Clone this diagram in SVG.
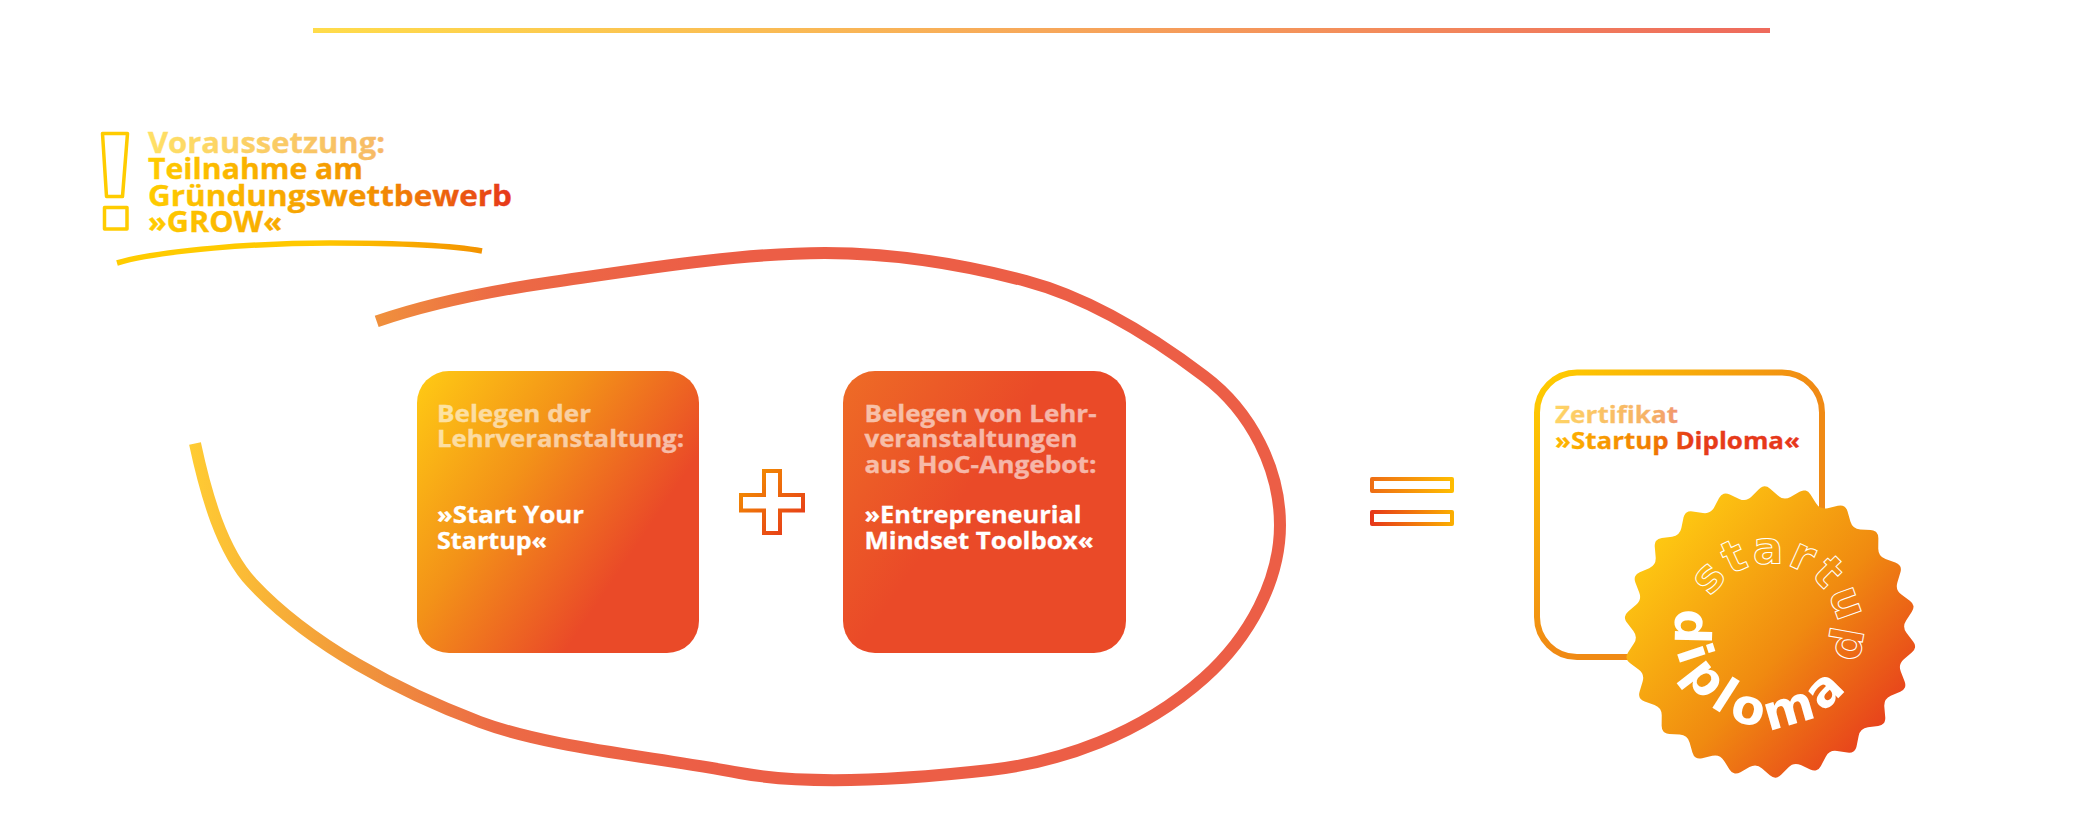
<svg xmlns="http://www.w3.org/2000/svg" xmlns:xlink="http://www.w3.org/1999/xlink" width="2083" height="833" viewBox="0 0 2083 833">
<style>
text{font-family:"Open Sans","Noto Sans","Liberation Sans",sans-serif;font-weight:700}
.h{font-size:29px;stroke:url(#gHead);stroke-width:.35px}
.b{font-size:23.5px;fill:#fff;stroke:#fff;stroke-width:.3px}
.c{font-size:23.5px;fill:url(#gCertT);stroke:url(#gCertT);stroke-width:.3px}
.dim{opacity:.6}
.badgeText{font-family:"DejaVu Sans","Open Sans",sans-serif;font-weight:700}
</style>
<defs>
<linearGradient id="gTop" gradientUnits="userSpaceOnUse" x1="313" y1="0" x2="1770" y2="0"><stop offset="0" stop-color="#FFDC4A"/><stop offset=".5" stop-color="#F7A85A"/><stop offset="1" stop-color="#EE6A5C"/></linearGradient>
<linearGradient id="gHead" gradientUnits="userSpaceOnUse" x1="148" y1="0" x2="515" y2="0"><stop offset="0" stop-color="#FFCC00"/><stop offset=".6" stop-color="#F39200"/><stop offset="1" stop-color="#E6361A"/></linearGradient>
<linearGradient id="gUnder" gradientUnits="userSpaceOnUse" x1="117" y1="0" x2="482" y2="0"><stop offset="0" stop-color="#FFCC00"/><stop offset=".55" stop-color="#FFC800"/><stop offset="1" stop-color="#F39200"/></linearGradient>
<linearGradient id="gLoop" gradientUnits="userSpaceOnUse" x1="190" y1="0" x2="700" y2="0"><stop offset="0" stop-color="#FFCC33"/><stop offset=".35" stop-color="#F0933C"/><stop offset=".6" stop-color="#EC6A45"/><stop offset="1" stop-color="#EC5E46"/></linearGradient>
<linearGradient id="gBox1" gradientUnits="userSpaceOnUse" x1="417" y1="371" x2="649" y2="528"><stop offset="0" stop-color="#FFCB14"/><stop offset=".5" stop-color="#F39218"/><stop offset="1" stop-color="#EA4A28"/></linearGradient>
<linearGradient id="gBox2" gradientUnits="userSpaceOnUse" x1="843" y1="371" x2="983" y2="467"><stop offset="0" stop-color="#EE6C26"/><stop offset="1" stop-color="#EA4A28"/></linearGradient>
<linearGradient id="gPlus" gradientUnits="userSpaceOnUse" x1="745" y1="475" x2="800" y2="530"><stop offset="0" stop-color="#F39200"/><stop offset="1" stop-color="#E6361A"/></linearGradient>
<linearGradient id="gEq1" gradientUnits="userSpaceOnUse" x1="1370" y1="0" x2="1454" y2="0"><stop offset="0" stop-color="#EE6C14"/><stop offset="1" stop-color="#FFBE00"/></linearGradient>
<linearGradient id="gEq2" gradientUnits="userSpaceOnUse" x1="1370" y1="0" x2="1454" y2="0"><stop offset="0" stop-color="#E6361A"/><stop offset="1" stop-color="#FBB000"/></linearGradient>
<linearGradient id="gCert" gradientUnits="userSpaceOnUse" x1="1545" y1="375" x2="1685" y2="515"><stop offset="0" stop-color="#FFCC00"/><stop offset="1" stop-color="#F08A14"/></linearGradient>
<linearGradient id="gCertT" gradientUnits="userSpaceOnUse" x1="1555" y1="0" x2="1800" y2="0"><stop offset="0" stop-color="#FFB800"/><stop offset=".4" stop-color="#F07C00"/><stop offset=".55" stop-color="#E63C18"/><stop offset="1" stop-color="#E6361A"/></linearGradient>
<linearGradient id="gBadge" gradientUnits="userSpaceOnUse" x1="1650" y1="530" x2="1895" y2="745"><stop offset="0" stop-color="#FFCC12"/><stop offset=".55" stop-color="#F08A10"/><stop offset="1" stop-color="#E6361E"/></linearGradient>
<path id="tooth" d="M0 0L-5.64 -143.15Q0 -148.5 5.64 -143.15L13.15 -135.99Q18.79 -130.66 25.69 -134.18L34.92 -138.94Q41.83 -142.49 45.74 -135.76Z"/>
<clipPath id="badgeClip">
<use href="#tooth" transform="translate(1770 632) rotate(-2.2)"/>
<use href="#tooth" transform="translate(1770 632) rotate(14.16)"/>
<use href="#tooth" transform="translate(1770 632) rotate(30.53)"/>
<use href="#tooth" transform="translate(1770 632) rotate(46.89)"/>
<use href="#tooth" transform="translate(1770 632) rotate(63.25)"/>
<use href="#tooth" transform="translate(1770 632) rotate(79.62)"/>
<use href="#tooth" transform="translate(1770 632) rotate(95.98)"/>
<use href="#tooth" transform="translate(1770 632) rotate(112.35)"/>
<use href="#tooth" transform="translate(1770 632) rotate(128.71)"/>
<use href="#tooth" transform="translate(1770 632) rotate(145.07)"/>
<use href="#tooth" transform="translate(1770 632) rotate(161.44)"/>
<use href="#tooth" transform="translate(1770 632) rotate(177.8)"/>
<use href="#tooth" transform="translate(1770 632) rotate(194.16)"/>
<use href="#tooth" transform="translate(1770 632) rotate(210.53)"/>
<use href="#tooth" transform="translate(1770 632) rotate(226.89)"/>
<use href="#tooth" transform="translate(1770 632) rotate(243.25)"/>
<use href="#tooth" transform="translate(1770 632) rotate(259.62)"/>
<use href="#tooth" transform="translate(1770 632) rotate(275.98)"/>
<use href="#tooth" transform="translate(1770 632) rotate(292.35)"/>
<use href="#tooth" transform="translate(1770 632) rotate(308.71)"/>
<use href="#tooth" transform="translate(1770 632) rotate(325.07)"/>
<use href="#tooth" transform="translate(1770 632) rotate(341.44)"/>
</clipPath>
<path id="arcTop" d="M1711.1 598A68 68 0 1 1 1822 675.7"/>
<path id="arcBot" d="M1677.8 609A95 95 0 1 0 1865 632"/>
</defs>
<rect width="2083" height="833" fill="#fff"/>
<g id="connectors" fill="none">
<line x1="313" y1="30.5" x2="1770" y2="30.5" stroke="url(#gTop)" stroke-width="5"/>
<path d="M117 263C160 250 260 243 330 243C400 243 450 245 482 251" stroke="url(#gUnder)" stroke-width="5.500"/>
<path d="M376.7 321.400C430 303 490 291 552.700 282C640 269.300 740 253 825 253C895 253 965 265 1026 281C1090 298 1150 335 1204 376C1252 412 1280 470 1280 525C1280 580 1250 637 1204 678C1140 735 1060 762 990 770C910 779 810 786 740 773C650 756 550 748 480 722C400 692 310 645 252 583C222 551 206 495 195 443.600" stroke="url(#gLoop)" stroke-width="12"/>
</g>
<g id="prerequisite">
<path d="M102.500 133.500H127.500L122.500 196.500H106.500Z" fill="none" stroke="#FFCC00" stroke-width="3.500" stroke-linejoin="round"/>
<rect x="104.500" y="207.500" width="22.500" height="21.500" fill="none" stroke="#FFCC00" stroke-width="3.500" stroke-linejoin="round"/>
<text class="h dim" x="148" y="152.500" fill="url(#gHead)" textLength="237" lengthAdjust="spacingAndGlyphs">Voraussetzung:</text>
<text class="h" x="148" y="179" fill="url(#gHead)" textLength="215" lengthAdjust="spacingAndGlyphs">Teilnahme am</text>
<text class="h" x="148" y="205.500" fill="url(#gHead)" textLength="364" lengthAdjust="spacingAndGlyphs">Gründungswettbewerb</text>
<text class="h" x="148" y="232" fill="url(#gHead)" textLength="134" lengthAdjust="spacingAndGlyphs">»GROW«</text>
</g>
<g id="course-1">
<rect x="417" y="371" width="282" height="282" rx="32" fill="url(#gBox1)"/>
<text class="b dim" x="437" y="421.500" textLength="154" lengthAdjust="spacingAndGlyphs">Belegen der</text>
<text class="b dim" x="437" y="447" textLength="247" lengthAdjust="spacingAndGlyphs">Lehrveranstaltung:</text>
<text class="b" x="437" y="523" textLength="147" lengthAdjust="spacingAndGlyphs">»Start Your</text>
<text class="b" x="437" y="549" textLength="110" lengthAdjust="spacingAndGlyphs">Startup«</text>
</g>
<g id="plus">
<path d="M764 471H780V495H803V510.500H780V533H764V510.500H741V495H764Z" fill="none" stroke="url(#gPlus)" stroke-width="4"/>
</g>
<g id="course-2">
<rect x="843" y="371" width="283" height="282" rx="32" fill="url(#gBox2)"/>
<text class="b dim" x="864.500" y="421.500" textLength="232" lengthAdjust="spacingAndGlyphs">Belegen von Lehr-</text>
<text class="b dim" x="864.500" y="447" textLength="213" lengthAdjust="spacingAndGlyphs">veranstaltungen</text>
<text class="b dim" x="864.500" y="473" textLength="232" lengthAdjust="spacingAndGlyphs">aus HoC-Angebot:</text>
<text class="b" x="864.500" y="523" textLength="217" lengthAdjust="spacingAndGlyphs">»Entrepreneurial</text>
<text class="b" x="864.500" y="549" textLength="229" lengthAdjust="spacingAndGlyphs">Mindset Toolbox«</text>
</g>
<g id="equals" fill="none" stroke-width="4" stroke-linejoin="round">
<rect x="1372" y="479" width="80" height="12" stroke="url(#gEq1)"/>
<rect x="1372" y="512" width="80" height="12" stroke="url(#gEq2)"/>
</g>
<g id="certificate">
<rect x="1537" y="372.500" width="285" height="284.500" rx="40" fill="none" stroke="url(#gCert)" stroke-width="6"/>
<text class="c dim" x="1555" y="423" textLength="123" lengthAdjust="spacingAndGlyphs">Zertifikat</text>
<text class="c" x="1555" y="448.500" textLength="245" lengthAdjust="spacingAndGlyphs">»Startup Diploma«</text>
</g>
<g id="badge">
<rect x="1610" y="470" width="320" height="320" fill="url(#gBadge)" clip-path="url(#badgeClip)"/>
<text class="badgeText" font-size="45" fill="none" stroke="#fff" stroke-width="1" letter-spacing="3"><textPath href="#arcTop">startup</textPath></text>
<text class="badgeText" font-size="49" fill="#fff" letter-spacing="6.500"><textPath href="#arcBot">diploma</textPath></text>
</g>
</svg>
